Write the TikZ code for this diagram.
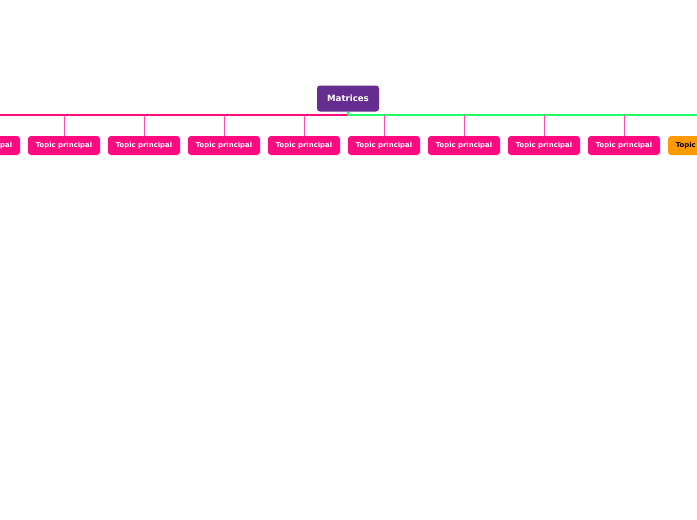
\documentclass[tikz,border=0pt]{standalone}
\usepackage{fontspec}
\setmainfont{DejaVu Sans}
\definecolor{rootpurple}{HTML}{662D91}
\definecolor{topicpink}{HTML}{FF0A80}
\definecolor{linkpink}{HTML}{FF4FA7}
\definecolor{mainline}{HTML}{FF0A80}
\definecolor{greenline}{HTML}{1EFF6A}
\definecolor{topicorange}{HTML}{FF9900}
\tikzset{
  rootbox/.style={fill=rootpurple, rounded corners=3pt, minimum width=62pt, minimum height=26pt, inner sep=0pt, text=white, font=\fontsize{8.6}{10}\selectfont\bfseries},
  topicbox/.style={fill=topicpink, rounded corners=3pt, minimum width=72pt, minimum height=19pt, inner sep=0pt, text=white, font=\fontsize{6.9}{8}\selectfont\bfseries},
  orangebox/.style={topicbox, fill=topicorange, text=black},
  trunkpink/.style={draw=mainline, line width=2pt},
  trunkgreen/.style={draw=greenline, line width=2pt},
  twig/.style={draw=linkpink, line width=1pt}
}
\begin{document}
\begin{tikzpicture}[x=1pt,y=-1pt]
\useasboundingbox (0,0) rectangle (697,520);
\clip (0,0) rectangle (697,520);
\node[rootbox] (root) at (348,98.5) {Matrices};
\coordinate (j) at (348,115);
\coordinate (L) at (-80,115);
\coordinate (R) at (780,115);
\draw[trunkpink] (L) -- (j);
\draw[trunkgreen] (j) -- (R);
\draw[trunkgreen] (root.south) -- (j);
\foreach \i/\x in {0/-16,1/64,2/144,3/224,4/304,5/384,6/464,7/544,8/624} {
  \node[topicbox] (t\i) at (\x,145.5) {Topic principal};
  \draw[twig] (t\i.north) -- (t\i.north |- j);
}
\node[orangebox] (t9) at (704,145.5) {Topic principal};
\draw[twig, draw=topicorange] (t9.north) -- (t9.north |- j);
\end{tikzpicture}
\end{document}
